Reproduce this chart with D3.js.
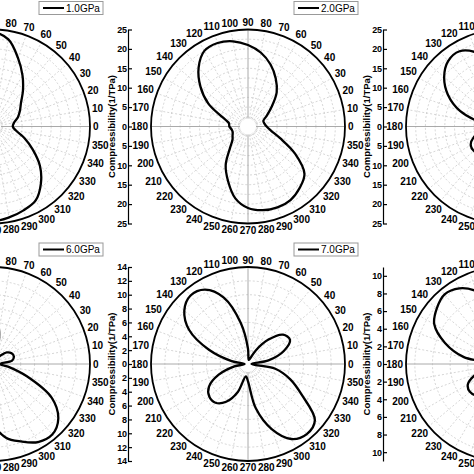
<!DOCTYPE html>
<html lang="en">
<head>
<meta charset="UTF-8">
<title>Compressibility polar plots</title>
<style>
  body { margin: 0; background: #fff; }
  svg { display: block; }
  text { font-family: "Liberation Sans", Arial, sans-serif; }
  .ang { font-size: 10px; font-weight: bold; fill: #000; }
  .axis text { font-size: 9px; font-weight: bold; fill: #000; letter-spacing: -0.4px; }
  .axis path, .axis line { stroke: #000; stroke-width: 1.2px; }
  .ytitle { font-size: 9.5px; font-weight: bold; }
  .ring { fill: none; stroke: #c4c4c4; stroke-width: 0.7px; stroke-dasharray: 2,2; }
  .spoke { stroke: #c4c4c4; stroke-width: 0.7px; stroke-dasharray: 2,2; }
  .cross { stroke: #a0a0a0; stroke-width: 0.9px; }
  .rim { fill: none; stroke: #000; stroke-width: 1.8px; }
  .curve { fill: none; stroke: #000; stroke-width: 2.3px; }
  .legend rect { fill: #fff; stroke: #999; stroke-width: 1px; }
  .legend text { font-size: 10px; }
</style>
</head>
<body>
<svg width="474" height="474"></svg>
<script src="https://d3js.org/d3.v7.min.js"></script>
<script>
// angles of the samples and the angular tick labels (degrees)
const angleLabels = [0, 10, 20, 30, 40, 50, 60, 70, 80, 90, 100, 110, 120, 130, 140, 150, 160, 170,
  180, 190, 200, 210, 220, 230, 240, 250, 260, 270, 280, 290, 300, 310, 320, 330, 340, 350];

// compressibility (1/TPa) read at every 10 degrees
const gpa10 = [5.1, 5.5, 6.8, 8.0, 9.4, 12.0, 15.2, 18.8, 22.8, 24.3, 23.8, 23.0, 22.0, 19.2, 15.8, 11.8, 8.6, 6.0,
  5.1, 5.5, 6.8, 8.0, 9.4, 12.0, 15.2, 18.8, 22.8, 24.3, 23.8, 23.0, 22.0, 19.2, 15.8, 11.8, 8.6, 6.0];
const gpa20 = [4.8, 4.3, 4.2, 5.6, 8.0, 11.5, 14.3, 17.0, 19.3, 21.0, 22.3, 22.9, 22.5, 19.8, 16.0, 11.8, 7.0, 5.0,
  4.8, 4.3, 4.2, 4.6, 5.2, 7.2, 11.5, 15.0, 18.8, 21.0, 21.9, 22.2, 21.9, 20.7, 19.0, 14.0, 8.8, 6.0];
const gpa30 = [1.0, 4.5, 8.0, 9.6, 9.8, 9.0, 6.5, 3.0, 5.0, 11.0, 16.5, 20.3, 22.4, 22.0, 19.8, 16.4, 11.8, 5.5,
  1.0, 4.5, 8.0, 9.6, 9.8, 9.0, 6.5, 3.0, 5.0, 11.0, 16.5, 20.3, 22.4, 22.0, 19.8, 16.4, 11.8, 5.5];
const gpa60 = [1.0, 2.8, 3.2, 3.1, 2.6, 1.5, 0.8, 2.0, 5.0, 8.5, 10.8, 11.9, 13.0, 13.3, 12.3, 9.8, 5.2, 2.2,
  1.0, 2.8, 3.2, 3.1, 2.6, 1.5, 0.8, 2.0, 5.0, 8.5, 10.8, 11.9, 13.0, 13.3, 12.3, 9.8, 5.2, 2.2];
const gpa70 = [0.5, 3.0, 5.5, 7.0, 6.6, 4.6, 2.3, 0.8, 0.6, 2.2, 6.0, 10.2, 12.4, 12.9, 12.0, 9.8, 6.0, 2.4,
  0.5, 2.0, 4.5, 6.5, 7.3, 7.3, 6.3, 4.3, 1.8, 2.5, 6.5, 10.0, 12.5, 13.2, 12.6, 9.0, 6.5, 4.0];
const gpa80 = [1.0, 1.5, 3.2, 4.6, 4.9, 4.6, 3.2, 1.5, 2.0, 5.0, 7.2, 8.8, 9.9, 10.3, 9.8, 9.0, 7.0, 4.5,
  1.0, 1.5, 3.2, 4.6, 4.9, 4.6, 3.2, 1.5, 2.0, 5.0, 7.2, 8.8, 9.9, 10.3, 9.8, 9.0, 7.0, 4.5];

const pressures = ["1.0GPa", "2.0GPa", "3.0GPa", "6.0GPa", "7.0GPa", "8.0GPa"];
const radialMax = [25, 25, 25, 14, 14, 11];
const ringStep = [2.5, 2.5, 2.5, 2, 2, 2];

// tick labels of the compressibility axis beside each plot
const ticks25 = [25, 20, 15, 10, 5, 0, -5, -10, -15, -20, -25];
const ticks14 = [14, 12, 10, 8, 6, 4, 2, 0, -2, -4, -6, -8, -10, -12, -14];
const ticks10 = [10, 8, 6, 4, 2, 0, -2, -4, -6, -8, -10];

const series = [gpa10, gpa20, gpa30, gpa60, gpa70, gpa80];
const axisTicks = [ticks25, ticks25, ticks25, ticks14, ticks14, ticks10];

const colX = [-7, 248, 503];
const rowY = [126.5, 364];
const legendTop = [-125, -121];
const R = 97;
const rad = Math.PI / 180;

const svg = d3.select("svg");
svg.append("rect").attr("width", 474).attr("height", 474).attr("fill", "#fff");

function labelPos(a) {
  const w = String(a).length * 5.6;
  const off = R + 3 + w / 2 * Math.abs(Math.cos(a * rad)) + 3.6 * Math.abs(Math.sin(a * rad));
  return [off * Math.cos(a * rad), -off * Math.sin(a * rad)];
}

series.forEach((vals, i) => {
  const cx = colX[i % 3];
  const cy = rowY[Math.floor(i / 3)];
  const max = radialMax[i];
  const r = d3.scaleLinear().domain([0, max]).range([0, R]);

  const g = svg.append("g").attr("transform", `translate(${cx},${cy})`);

  // dashed rings
  const rings = d3.range(ringStep[i], max - 0.01, ringStep[i]);
  g.selectAll(".ring").data(rings).enter().append("circle")
    .attr("class", "ring").attr("r", d => r(d));

  // dashed spokes every 10 degrees
  g.selectAll(".spoke").data(angleLabels.filter(a => a % 90 !== 0)).enter().append("line")
    .attr("class", "spoke")
    .attr("x1", a => 8 * Math.cos(a * rad)).attr("y1", a => -8 * Math.sin(a * rad))
    .attr("x2", a => R * Math.cos(a * rad)).attr("y2", a => -R * Math.sin(a * rad));

  // solid 0/90/180/270 lines
  g.selectAll(".cross").data([0, 90, 180, 270]).enter().append("line")
    .attr("class", "cross")
    .attr("x1", a => 8 * Math.cos(a * rad)).attr("y1", a => -8 * Math.sin(a * rad))
    .attr("x2", a => R * Math.cos(a * rad)).attr("y2", a => -R * Math.sin(a * rad));

  g.append("circle").attr("class", "rim").attr("r", R);

  // angle labels outside the rim
  g.selectAll(".ang").data(angleLabels).enter().append("text")
    .attr("class", "ang")
    .attr("text-anchor", "middle")
    .attr("dominant-baseline", "central")
    .attr("x", a => labelPos(a)[0])
    .attr("y", a => labelPos(a)[1])
    .text(a => a);

  // data curve
  const pts = angleLabels.map((a, k) => ({ a: a, v: vals[k] }));
  const line = d3.lineRadial()
    .angle(d => (90 - d.a) * rad)
    .radius(d => r(d.v))
    .curve(d3.curveCatmullRomClosed.alpha(0.5));
  g.append("path").attr("class", "curve").attr("d", line(pts));

  // compressibility axis to the left
  const y = d3.scaleLinear().domain([max, -max]).range([cy - R, cy + R]);
  svg.append("g").attr("class", "axis")
    .attr("transform", `translate(${cx - 120},0)`)
    .call(d3.axisLeft(y).tickValues(axisTicks[i]).tickFormat(d => Math.abs(d))
      .tickSizeInner(-4).tickSizeOuter(0).tickPadding(1.5));

  svg.append("text").attr("class", "ytitle")
    .attr("transform", `translate(${cx - 137},${cy}) rotate(-90)`)
    .attr("text-anchor", "middle").attr("dominant-baseline", "central")
    .text("Compressibility(1/TPa)");

  // legend
  const lg = svg.append("g").attr("class", "legend")
    .attr("transform", `translate(${cx + 46},${cy + legendTop[Math.floor(i / 3)]})`);
  lg.append("rect").attr("width", 64).attr("height", 13);
  lg.append("line").attr("x1", 4).attr("x2", 25).attr("y1", 6.5).attr("y2", 6.5)
    .attr("stroke", "#000").attr("stroke-width", 2);
  lg.append("text").attr("x", 27).attr("y", 6.5).attr("dominant-baseline", "central")
    .text(pressures[i]);
});
</script>
</body>
</html>
